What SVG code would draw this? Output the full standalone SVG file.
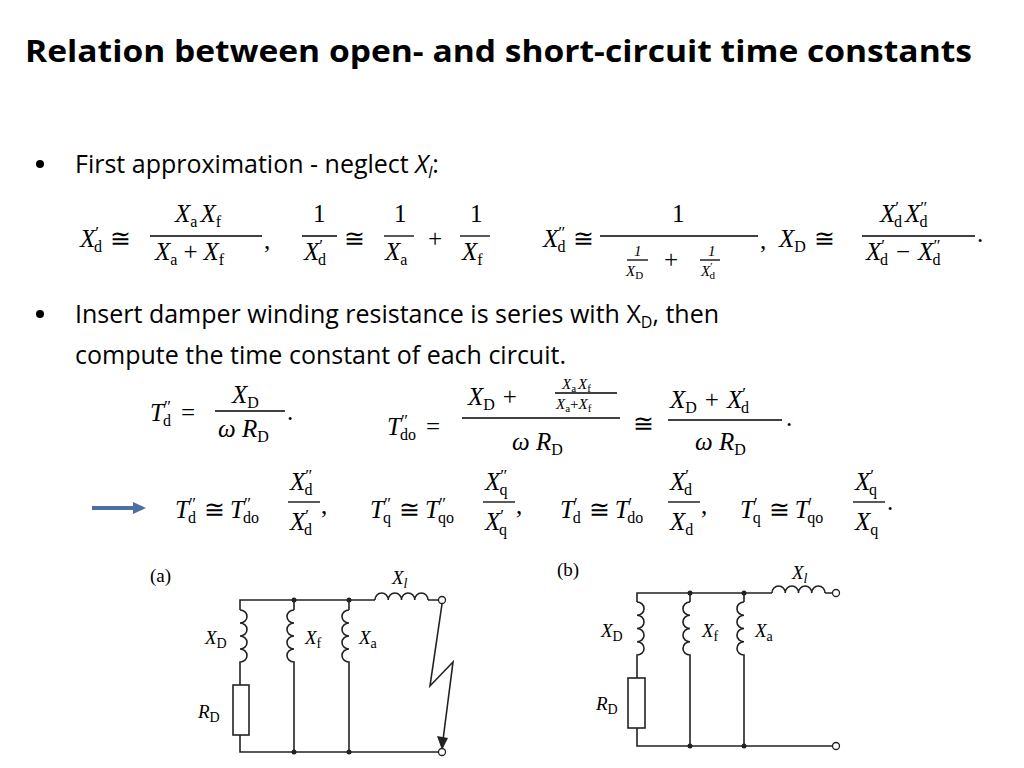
<svg xmlns="http://www.w3.org/2000/svg" width="1024" height="768" viewBox="0 0 1024 768">
<style>
.t{font-family:"Open Sans","Liberation Sans",sans-serif;fill:#000}
.m{font-family:"Liberation Serif",serif;font-size:25px;font-style:italic;fill:#000}
.n{font-style:normal}
.s{font-style:normal;font-size:16px}
.p{font-style:normal;font-size:17px}
.ss{font-family:"Liberation Serif",serif;font-size:15px;font-style:italic}
.sn{font-style:normal;font-size:11px}
.bar{stroke:#000;stroke-width:1.3}
.w{fill:none;stroke:#222;stroke-width:1.6}
.c{fill:#fff;stroke:#222;stroke-width:1.3}
.lab{font-family:"Liberation Serif",serif;font-size:19px;fill:#000}
</style>
<rect width="1024" height="768" fill="#fff"/>
<text class="t" x="25" y="62" font-size="30" font-weight="bold" textLength="947" lengthAdjust="spacingAndGlyphs">Relation between open- and short-circuit time constants</text>
<g id="bullets" class="t" font-size="25">
<circle cx="40" cy="164" r="4" fill="#000"/>
<text x="75" y="173">First approximation - neglect <tspan font-style="italic">X</tspan><tspan font-size="16" font-style="italic" dy="5">l</tspan><tspan dy="-5">:</tspan></text>
<circle cx="40" cy="314" r="4" fill="#000"/>
<text x="75" y="323">Insert damper winding resistance is series with X<tspan font-size="16" dy="5">D</tspan><tspan dy="-5">, then</tspan></text>
<text x="75" y="364">compute the time constant  of each circuit.</text>
</g>
<g id="eq1">
<text class="m" x="80" y="247">X<tspan class="p" dy="-9">′</tspan><tspan class="s" dx="-5" dy="14">d</tspan><tspan class="n" dx="8" dy="-5">≅</tspan></text>
<text class="m" x="175" y="222">X<tspan class="s" dy="5">a</tspan><tspan dx="3" dy="-5">X</tspan><tspan class="s" dy="5">f</tspan></text>
<line class="bar" x1="150" y1="236" x2="262" y2="236"/>
<text class="m" x="155" y="260">X<tspan class="s" dy="5">a</tspan><tspan class="n" dx="6" dy="-5">+</tspan><tspan dx="6">X</tspan><tspan class="s" dy="5">f</tspan></text>
<text class="m n" x="264" y="249">,</text>
<text class="m n" x="313" y="222">1</text>
<line class="bar" x1="302" y1="236" x2="337" y2="236"/>
<text class="m" x="304" y="260">X<tspan class="p" dy="-9">′</tspan><tspan class="s" dx="-5" dy="14">d</tspan></text>
<text class="m n" x="344" y="247">≅</text>
<text class="m n" x="394" y="222">1</text>
<line class="bar" x1="384" y1="236" x2="414" y2="236"/>
<text class="m" x="385" y="260">X<tspan class="s" dy="5">a</tspan></text>
<text class="m n" x="428" y="247">+</text>
<text class="m n" x="470" y="222">1</text>
<line class="bar" x1="460" y1="236" x2="490" y2="236"/>
<text class="m" x="462" y="260">X<tspan class="s" dy="5">f</tspan></text>
<text class="m" x="543" y="247">X<tspan class="p" dy="-9">″</tspan><tspan class="s" dx="-8" dy="14">d</tspan><tspan class="n" dx="8" dy="-5">≅</tspan></text>
<text class="m n" x="672" y="222">1</text>
<line class="bar" x1="600" y1="236" x2="758" y2="236"/>
<text class="ss n" x="634" y="256">1</text>
<line class="bar" x1="627" y1="260" x2="648" y2="260"/>
<text class="ss" x="626" y="276">X<tspan class="sn" dy="3">D</tspan></text>
<text class="m n" x="664" y="268">+</text>
<text class="ss n" x="708" y="256">1</text>
<line class="bar" x1="700" y1="260" x2="720" y2="260"/>
<text class="ss" x="701" y="276">X<tspan class="sn" dy="-6">′</tspan><tspan class="sn" dx="-3" dy="9">d</tspan></text>
<text class="m n" x="760" y="249">,</text>
<text class="m" x="779" y="247">X<tspan class="s" dy="5">D</tspan><tspan class="n" dx="8" dy="-5">≅</tspan></text>
<text class="m" x="880" y="222">X<tspan class="p" dy="-9">′</tspan><tspan class="s" dx="-5" dy="14">d</tspan><tspan dx="3" dy="-5">X</tspan><tspan class="p" dy="-9">″</tspan><tspan class="s" dx="-8" dy="14">d</tspan></text>
<line class="bar" x1="862" y1="236" x2="975" y2="236"/>
<text class="m" x="866" y="260">X<tspan class="p" dy="-9">′</tspan><tspan class="s" dx="-5" dy="14">d</tspan><tspan class="n" dx="8" dy="-5">−</tspan><tspan dx="8">X</tspan><tspan class="p" dy="-9">″</tspan><tspan class="s" dx="-8" dy="14">d</tspan></text>
<text class="m n" x="977" y="242">.</text>
</g>
<g id="eq2">
<text class="m" x="150" y="421">T<tspan class="p" dy="-9">″</tspan><tspan class="s" dx="-8" dy="14">d</tspan><tspan class="n" dx="10" dy="-5">=</tspan></text>
<text class="m" x="232" y="403">X<tspan class="s" dy="5">D</tspan></text>
<line class="bar" x1="215" y1="411" x2="285" y2="411"/>
<text class="m" x="218" y="437">ω R<tspan class="s" dy="5">D</tspan></text>
<text class="m n" x="287" y="420">.</text>
<text class="m" x="387" y="435">T<tspan class="p" dy="-9">″</tspan><tspan class="s" dx="-8" dy="14">do</tspan><tspan class="n" dx="10" dy="-5">=</tspan></text>
<text class="m" x="468" y="405">X<tspan class="s" dy="5">D</tspan><tspan class="n" dx="8" dy="-5">+</tspan></text>
<text class="ss" x="562" y="389">X<tspan class="sn" dy="3">a</tspan><tspan dx="2" dy="-3">X</tspan><tspan class="sn" dy="3">f</tspan></text>
<line class="bar" x1="555" y1="393" x2="617" y2="393"/>
<text class="ss" x="556" y="409">X<tspan class="sn" dy="3">a</tspan><tspan font-style="normal" dy="-3">+</tspan><tspan>X</tspan><tspan class="sn" dy="3">f</tspan></text>
<line class="bar" x1="462" y1="418" x2="620" y2="418"/>
<text class="m" x="512" y="450">ω R<tspan class="s" dy="5">D</tspan></text>
<text class="m n" x="633" y="432">≅</text>
<text class="m" x="670" y="408">X<tspan class="s" dy="5">D</tspan><tspan class="n" dx="8" dy="-5">+</tspan><tspan dx="8">X</tspan><tspan class="p" dy="-9">′</tspan><tspan class="s" dx="-5" dy="14">d</tspan></text>
<line class="bar" x1="668" y1="420" x2="782" y2="420"/>
<text class="m" x="695" y="450">ω R<tspan class="s" dy="5">D</tspan></text>
<text class="m n" x="786" y="426">.</text>
</g>
<g id="eq3">
<line x1="92" y1="508" x2="135" y2="508" stroke="#4a6fa5" stroke-width="4"/>
<polygon points="133,502 146,508 133,514" fill="#4a6fa5"/>
<text class="m" x="175" y="518">T<tspan class="p" dy="-9">″</tspan><tspan class="s" dx="-8" dy="14">d</tspan><tspan class="n" dx="8" dy="-5">≅</tspan><tspan dx="5">T</tspan><tspan class="p" dy="-9">″</tspan><tspan class="s" dx="-8" dy="14">do</tspan></text>
<text class="m" x="290" y="490">X<tspan class="p" dy="-9">″</tspan><tspan class="s" dx="-8" dy="14">d</tspan></text>
<line class="bar" x1="288" y1="502" x2="320" y2="502"/>
<text class="m" x="290" y="530">X<tspan class="p" dy="-9">′</tspan><tspan class="s" dx="-5" dy="14">d</tspan></text>
<text class="m n" x="321" y="514">,</text>
<text class="m" x="370" y="518">T<tspan class="p" dy="-9">″</tspan><tspan class="s" dx="-8" dy="14">q</tspan><tspan class="n" dx="8" dy="-5">≅</tspan><tspan dx="5">T</tspan><tspan class="p" dy="-9">″</tspan><tspan class="s" dx="-8" dy="14">qo</tspan></text>
<text class="m" x="485" y="490">X<tspan class="p" dy="-9">″</tspan><tspan class="s" dx="-8" dy="14">q</tspan></text>
<line class="bar" x1="483" y1="502" x2="515" y2="502"/>
<text class="m" x="485" y="530">X<tspan class="p" dy="-9">′</tspan><tspan class="s" dx="-5" dy="14">q</tspan></text>
<text class="m n" x="516" y="514">,</text>
<text class="m" x="560" y="518">T<tspan class="p" dy="-9">′</tspan><tspan class="s" dx="-5" dy="14">d</tspan><tspan class="n" dx="8" dy="-5">≅</tspan><tspan dx="5">T</tspan><tspan class="p" dy="-9">′</tspan><tspan class="s" dx="-5" dy="14">do</tspan></text>
<text class="m" x="670" y="490">X<tspan class="p" dy="-9">′</tspan><tspan class="s" dx="-5" dy="14">d</tspan></text>
<line class="bar" x1="668" y1="502" x2="700" y2="502"/>
<text class="m" x="670" y="530">X<tspan class="s" dy="5">d</tspan></text>
<text class="m n" x="701" y="514">,</text>
<text class="m" x="740" y="518">T<tspan class="p" dy="-9">′</tspan><tspan class="s" dx="-5" dy="14">q</tspan><tspan class="n" dx="8" dy="-5">≅</tspan><tspan dx="5">T</tspan><tspan class="p" dy="-9">′</tspan><tspan class="s" dx="-5" dy="14">qo</tspan></text>
<text class="m" x="855" y="490">X<tspan class="p" dy="-9">′</tspan><tspan class="s" dx="-5" dy="14">q</tspan></text>
<line class="bar" x1="853" y1="502" x2="885" y2="502"/>
<text class="m" x="855" y="530">X<tspan class="s" dy="5">q</tspan></text>
<text class="m n" x="887" y="510">.</text>
</g>
<g id="circuit-a">
<text class="lab" x="150" y="582">(a)</text>
<path class="w" d="M240,610 V600 H375 M428,600 H438 M294,600 V610 M349,600 V610"/>
<path class="w" d="M240,610 a7,6.5 0 0 1 0,13 a7,6.5 0 0 1 0,13 a7,6.5 0 0 1 0,13 a7,6.5 0 0 1 0,13 V685 M240,735 V752 H438"/>
<rect class="w" x="233" y="685" width="16" height="50"/>
<path class="w" d="M294,610 a7,6.5 0 0 0 0,13 a7,6.5 0 0 0 0,13 a7,6.5 0 0 0 0,13 a7,6.5 0 0 0 0,13 V752"/>
<path class="w" d="M349,610 a7,6.5 0 0 0 0,13 a7,6.5 0 0 0 0,13 a7,6.5 0 0 0 0,13 a7,6.5 0 0 0 0,13 V752"/>
<path class="w" d="M375,600 a6.6,7 0 0 1 13.25,0 a6.6,7 0 0 1 13.25,0 a6.6,7 0 0 1 13.25,0 a6.6,7 0 0 1 13.25,0"/>
<path class="w" d="M442,604 L430,686 L453,662 L443,740"/>
<polygon points="437,736 448,738 442,750" fill="#222"/>
<circle cx="294" cy="600" r="2.5" fill="#222"/><circle cx="349" cy="600" r="2.5" fill="#222"/>
<circle cx="294" cy="752" r="2.5" fill="#222"/><circle cx="349" cy="752" r="2.5" fill="#222"/>
<circle class="c" cx="442" cy="600" r="3.5"/><circle class="c" cx="442" cy="752" r="3.5"/>
<text class="lab" x="392" y="584" font-style="italic">X<tspan font-size="14" dy="4">l</tspan></text>
<text class="lab" x="205" y="644" font-style="italic">X<tspan font-size="14" font-style="normal" dy="4">D</tspan></text>
<text class="lab" x="305" y="644" font-style="italic">X<tspan font-size="14" font-style="normal" dy="4">f</tspan></text>
<text class="lab" x="359" y="644" font-style="italic">X<tspan font-size="14" font-style="normal" dy="4">a</tspan></text>
<text class="lab" x="198" y="718" font-style="italic">R<tspan font-size="14" font-style="normal" dy="4">D</tspan></text>
</g>
<g id="circuit-b">
<text class="lab" x="557" y="576">(b)</text>
<path class="w" d="M637,602 V593 H772 M825,593 H832 M690,593 V602 M744,593 V602"/>
<path class="w" d="M637,602 a7,6.6 0 0 1 0,13.25 a7,6.6 0 0 1 0,13.25 a7,6.6 0 0 1 0,13.25 a7,6.6 0 0 1 0,13.25 V678 M637,728 V746 H832"/>
<rect class="w" x="628" y="678" width="17" height="50"/>
<path class="w" d="M690,602 a7,6.6 0 0 0 0,13.25 a7,6.6 0 0 0 0,13.25 a7,6.6 0 0 0 0,13.25 a7,6.6 0 0 0 0,13.25 V746"/>
<path class="w" d="M744,602 a7,6.6 0 0 0 0,13.25 a7,6.6 0 0 0 0,13.25 a7,6.6 0 0 0 0,13.25 a7,6.6 0 0 0 0,13.25 V746"/>
<path class="w" d="M772,593 a6.6,7 0 0 1 13.25,0 a6.6,7 0 0 1 13.25,0 a6.6,7 0 0 1 13.25,0 a6.6,7 0 0 1 13.25,0"/>
<circle cx="690" cy="593" r="2.5" fill="#222"/><circle cx="744" cy="593" r="2.5" fill="#222"/>
<circle cx="690" cy="746" r="2.5" fill="#222"/><circle cx="744" cy="746" r="2.5" fill="#222"/>
<circle class="c" cx="836" cy="593" r="3.5"/><circle class="c" cx="836" cy="746" r="3.5"/>
<text class="lab" x="792" y="579" font-style="italic">X<tspan font-size="14" dy="4">l</tspan></text>
<text class="lab" x="601" y="637" font-style="italic">X<tspan font-size="14" font-style="normal" dy="4">D</tspan></text>
<text class="lab" x="702" y="637" font-style="italic">X<tspan font-size="14" font-style="normal" dy="4">f</tspan></text>
<text class="lab" x="755" y="637" font-style="italic">X<tspan font-size="14" font-style="normal" dy="4">a</tspan></text>
<text class="lab" x="596" y="710" font-style="italic">R<tspan font-size="14" font-style="normal" dy="4">D</tspan></text>
</g>
</svg>
